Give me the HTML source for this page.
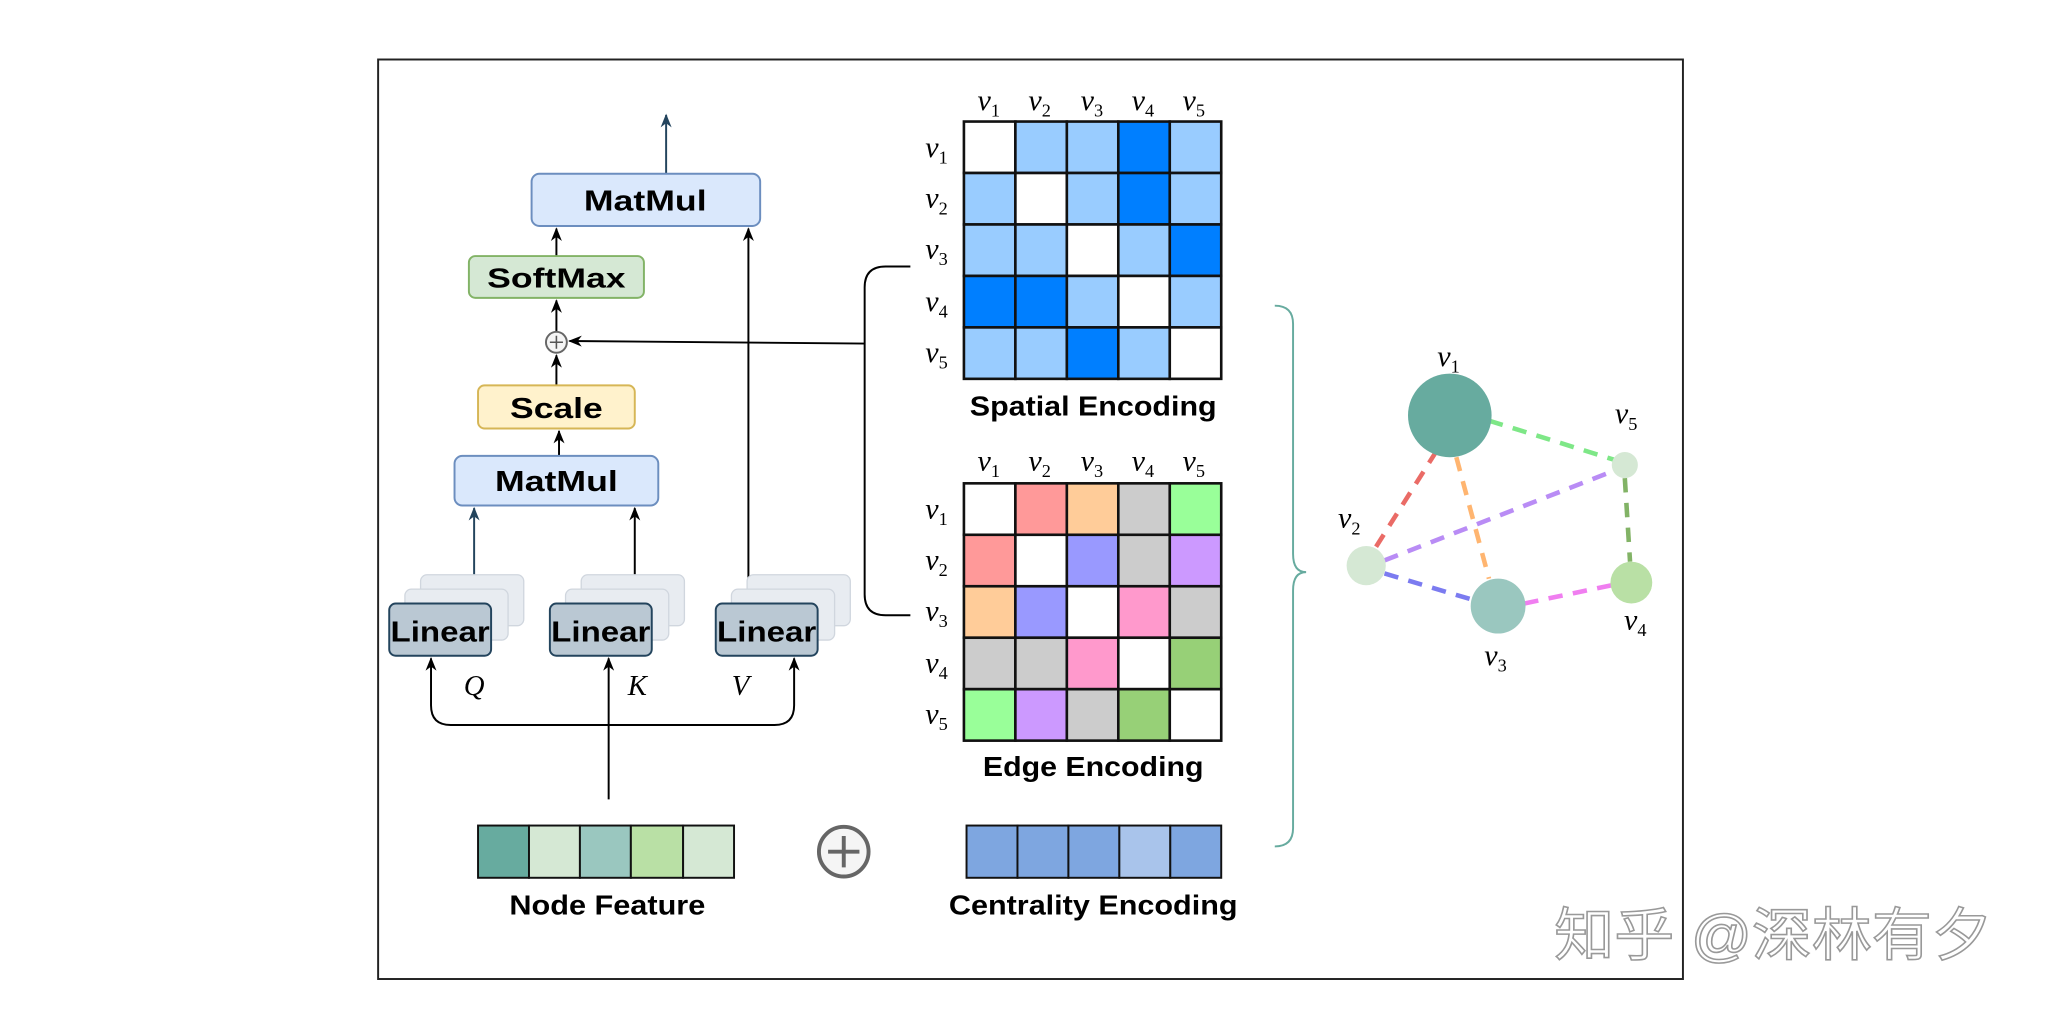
<!DOCTYPE html>
<html><head><meta charset="utf-8"><style>
html,body{margin:0;padding:0;background:#fff;}
svg{display:block;}
.b{font-family:"Liberation Sans",sans-serif;font-weight:bold;fill:#000;text-anchor:middle;}
.m{font-family:"Liberation Serif",serif;font-style:italic;fill:#000;text-anchor:middle;}
</style></head><body>
<svg width="2048" height="1015" viewBox="0 0 1568 777" xmlns="http://www.w3.org/2000/svg">
<defs>
<marker id="a" viewBox="0 0 10 10" refX="9" refY="5" markerWidth="7" markerHeight="7" orient="auto-start-reverse"><path d="M0,1 L10,5 L0,9 L3,5z" fill="#000"/></marker>
<marker id="ab" viewBox="0 0 10 10" refX="9" refY="5" markerWidth="7" markerHeight="7" orient="auto"><path d="M0,1 L10,5 L0,9 L3,5z" fill="#23445d"/></marker>
</defs>
<rect x="289.5" y="45.5" width="999" height="704" fill="#fff" stroke="#222" stroke-width="1.5"/>

<line x1="510" y1="138" x2="510" y2="88" stroke="#23445d" stroke-width="1.5" marker-end="url(#ab)"/>
<rect x="407" y="133" width="175" height="40" rx="6" fill="#dae8fc" stroke="#6c8ebf" stroke-width="1.5"/>
<text x="494" y="161" class="b" font-size="22" textLength="94" lengthAdjust="spacingAndGlyphs">MatMul</text>
<line x1="426" y1="196" x2="426" y2="175" stroke="#000" stroke-width="1.5" marker-end="url(#a)"/>
<rect x="359" y="196" width="134" height="32" rx="5" fill="#d5e8d4" stroke="#82b366" stroke-width="1.5"/>
<text x="426" y="220" class="b" font-size="21" textLength="106" lengthAdjust="spacingAndGlyphs">SoftMax</text>
<line x1="426" y1="254" x2="426" y2="230" stroke="#000" stroke-width="1.5" marker-end="url(#a)"/>
<circle cx="426" cy="262" r="8" fill="#f5f5f5" stroke="#666" stroke-width="1.5"/>
<path d="M421,262 H431 M426,257 V267" stroke="#555" stroke-width="1.2"/>
<line x1="426" y1="295" x2="426" y2="272" stroke="#000" stroke-width="1.5" marker-end="url(#a)"/>
<rect x="366" y="295" width="120" height="33" rx="5" fill="#fff2cc" stroke="#d6b656" stroke-width="1.5"/>
<text x="426" y="320" class="b" font-size="22" textLength="71" lengthAdjust="spacingAndGlyphs">Scale</text>
<line x1="428" y1="349" x2="428" y2="330" stroke="#000" stroke-width="1.5" marker-end="url(#a)"/>
<rect x="348" y="349" width="156" height="38" rx="6" fill="#dae8fc" stroke="#6c8ebf" stroke-width="1.5"/>
<text x="426" y="376" class="b" font-size="22" textLength="94" lengthAdjust="spacingAndGlyphs">MatMul</text>

<line x1="573" y1="447" x2="573" y2="175" stroke="#000" stroke-width="1.5" marker-end="url(#a)"/>
<line x1="363" y1="440" x2="363" y2="389" stroke="#23445d" stroke-width="1.5" marker-end="url(#ab)"/>
<line x1="486" y1="440" x2="486" y2="389" stroke="#000" stroke-width="1.5" marker-end="url(#a)"/>

<g>
<rect x="322" y="440" width="79" height="39" rx="5" fill="#e8ecf1" stroke="#d0d6de" stroke-width="1"/>
<rect x="310" y="451" width="79" height="39" rx="5" fill="#e8ecf1" stroke="#d0d6de" stroke-width="1"/>
<rect x="298" y="462" width="78" height="40" rx="5" fill="#bac8d3" stroke="#23445d" stroke-width="1.5"/>
<text x="337" y="491" class="b" font-size="22" textLength="76" lengthAdjust="spacingAndGlyphs">Linear</text>
</g>
<g>
<rect x="445" y="440" width="79" height="39" rx="5" fill="#e8ecf1" stroke="#d0d6de" stroke-width="1"/>
<rect x="433" y="451" width="79" height="39" rx="5" fill="#e8ecf1" stroke="#d0d6de" stroke-width="1"/>
<rect x="421" y="462" width="78" height="40" rx="5" fill="#bac8d3" stroke="#23445d" stroke-width="1.5"/>
<text x="460" y="491" class="b" font-size="22" textLength="76" lengthAdjust="spacingAndGlyphs">Linear</text>
</g>
<g>
<rect x="572" y="440" width="79" height="39" rx="5" fill="#e8ecf1" stroke="#d0d6de" stroke-width="1"/>
<rect x="560" y="451" width="79" height="39" rx="5" fill="#e8ecf1" stroke="#d0d6de" stroke-width="1"/>
<rect x="548" y="462" width="78" height="40" rx="5" fill="#bac8d3" stroke="#23445d" stroke-width="1.5"/>
<text x="587" y="491" class="b" font-size="22" textLength="76" lengthAdjust="spacingAndGlyphs">Linear</text>
</g>
<text x="363" y="532" class="m" font-size="22">Q</text>
<text x="488" y="532" class="m" font-size="22">K</text>
<text x="567" y="532" class="m" font-size="22">V</text>

<line x1="466" y1="612" x2="466" y2="504" stroke="#000" stroke-width="1.5" marker-end="url(#a)"/>
<path d="M330,504 V540 Q330,555 345,555 H593 Q608,555 608,540 V504" fill="none" stroke="#000" stroke-width="1.5" marker-start="url(#a)" marker-end="url(#a)"/>

<g stroke="#111" stroke-width="1.5">
<rect x="366" y="632" width="39" height="40" fill="#67ab9f"/>
<rect x="405" y="632" width="39" height="40" fill="#d5e8d4"/>
<rect x="444" y="632" width="39" height="40" fill="#9ac7bf"/>
<rect x="483" y="632" width="40" height="40" fill="#b9e0a5"/>
<rect x="523" y="632" width="39" height="40" fill="#d5e8d4"/>
</g>
<text x="465" y="700" class="b" font-size="21" textLength="150" lengthAdjust="spacingAndGlyphs">Node Feature</text>
<circle cx="646" cy="652" r="19" fill="#f5f5f5" stroke="#666" stroke-width="3"/>
<path d="M634,652 H658 M646,640 V664" stroke="#666" stroke-width="3"/>
<g stroke="#111" stroke-width="1.5">
<rect x="740" y="632" width="39" height="40" fill="#7ea6e0"/>
<rect x="779" y="632" width="39" height="40" fill="#7ea6e0"/>
<rect x="818" y="632" width="39" height="40" fill="#7ea6e0"/>
<rect x="857" y="632" width="39" height="40" fill="#a9c4eb"/>
<rect x="896" y="632" width="39" height="40" fill="#7ea6e0"/>
</g>
<text x="837" y="700" class="b" font-size="21" textLength="221" lengthAdjust="spacingAndGlyphs">Centrality Encoding</text>

<path d="M697,204 H678 Q662,204 662,220 V455 Q662,471 678,471 H697" fill="none" stroke="#000" stroke-width="1.5"/>
<line x1="662" y1="263" x2="436" y2="261" stroke="#000" stroke-width="1.5" marker-end="url(#a)"/>

<g stroke="#111" stroke-width="2">
<rect x="738" y="93" width="39.4" height="39.4" fill="#fff"/><rect x="777.4" y="93" width="39.4" height="39.4" fill="#99ccff"/><rect x="816.8" y="93" width="39.4" height="39.4" fill="#99ccff"/><rect x="856.2" y="93" width="39.4" height="39.4" fill="#007fff"/><rect x="895.6" y="93" width="39.4" height="39.4" fill="#99ccff"/>
<rect x="738" y="132.4" width="39.4" height="39.4" fill="#99ccff"/><rect x="777.4" y="132.4" width="39.4" height="39.4" fill="#fff"/><rect x="816.8" y="132.4" width="39.4" height="39.4" fill="#99ccff"/><rect x="856.2" y="132.4" width="39.4" height="39.4" fill="#007fff"/><rect x="895.6" y="132.4" width="39.4" height="39.4" fill="#99ccff"/>
<rect x="738" y="171.8" width="39.4" height="39.4" fill="#99ccff"/><rect x="777.4" y="171.8" width="39.4" height="39.4" fill="#99ccff"/><rect x="816.8" y="171.8" width="39.4" height="39.4" fill="#fff"/><rect x="856.2" y="171.8" width="39.4" height="39.4" fill="#99ccff"/><rect x="895.6" y="171.8" width="39.4" height="39.4" fill="#007fff"/>
<rect x="738" y="211.2" width="39.4" height="39.4" fill="#007fff"/><rect x="777.4" y="211.2" width="39.4" height="39.4" fill="#007fff"/><rect x="816.8" y="211.2" width="39.4" height="39.4" fill="#99ccff"/><rect x="856.2" y="211.2" width="39.4" height="39.4" fill="#fff"/><rect x="895.6" y="211.2" width="39.4" height="39.4" fill="#99ccff"/>
<rect x="738" y="250.6" width="39.4" height="39.4" fill="#99ccff"/><rect x="777.4" y="250.6" width="39.4" height="39.4" fill="#99ccff"/><rect x="816.8" y="250.6" width="39.4" height="39.4" fill="#007fff"/><rect x="856.2" y="250.6" width="39.4" height="39.4" fill="#99ccff"/><rect x="895.6" y="250.6" width="39.4" height="39.4" fill="#fff"/>
</g>
<g font-size="23">
<text x="757" y="84" class="m">v<tspan font-size="14" font-style="normal" dy="5">1</tspan></text>
<text x="796" y="84" class="m">v<tspan font-size="14" font-style="normal" dy="5">2</tspan></text>
<text x="836" y="84" class="m">v<tspan font-size="14" font-style="normal" dy="5">3</tspan></text>
<text x="875" y="84" class="m">v<tspan font-size="14" font-style="normal" dy="5">4</tspan></text>
<text x="914" y="84" class="m">v<tspan font-size="14" font-style="normal" dy="5">5</tspan></text>
<text x="717" y="120" class="m">v<tspan font-size="14" font-style="normal" dy="5">1</tspan></text>
<text x="717" y="159" class="m">v<tspan font-size="14" font-style="normal" dy="5">2</tspan></text>
<text x="717" y="198" class="m">v<tspan font-size="14" font-style="normal" dy="5">3</tspan></text>
<text x="717" y="238" class="m">v<tspan font-size="14" font-style="normal" dy="5">4</tspan></text>
<text x="717" y="277" class="m">v<tspan font-size="14" font-style="normal" dy="5">5</tspan></text>
</g>
<text x="837" y="318" class="b" font-size="21" textLength="189" lengthAdjust="spacingAndGlyphs">Spatial Encoding</text>

<g stroke="#111" stroke-width="2">
<rect x="738" y="370" width="39.4" height="39.4" fill="#fff"/><rect x="777.4" y="370" width="39.4" height="39.4" fill="#ff9999"/><rect x="816.8" y="370" width="39.4" height="39.4" fill="#ffcc99"/><rect x="856.2" y="370" width="39.4" height="39.4" fill="#cccccc"/><rect x="895.6" y="370" width="39.4" height="39.4" fill="#99ff99"/>
<rect x="738" y="409.4" width="39.4" height="39.4" fill="#ff9999"/><rect x="777.4" y="409.4" width="39.4" height="39.4" fill="#fff"/><rect x="816.8" y="409.4" width="39.4" height="39.4" fill="#9999ff"/><rect x="856.2" y="409.4" width="39.4" height="39.4" fill="#cccccc"/><rect x="895.6" y="409.4" width="39.4" height="39.4" fill="#cc99ff"/>
<rect x="738" y="448.8" width="39.4" height="39.4" fill="#ffcc99"/><rect x="777.4" y="448.8" width="39.4" height="39.4" fill="#9999ff"/><rect x="816.8" y="448.8" width="39.4" height="39.4" fill="#fff"/><rect x="856.2" y="448.8" width="39.4" height="39.4" fill="#ff99cc"/><rect x="895.6" y="448.8" width="39.4" height="39.4" fill="#cccccc"/>
<rect x="738" y="488.2" width="39.4" height="39.4" fill="#cccccc"/><rect x="777.4" y="488.2" width="39.4" height="39.4" fill="#cccccc"/><rect x="816.8" y="488.2" width="39.4" height="39.4" fill="#ff99cc"/><rect x="856.2" y="488.2" width="39.4" height="39.4" fill="#fff"/><rect x="895.6" y="488.2" width="39.4" height="39.4" fill="#97d077"/>
<rect x="738" y="527.6" width="39.4" height="39.4" fill="#99ff99"/><rect x="777.4" y="527.6" width="39.4" height="39.4" fill="#cc99ff"/><rect x="816.8" y="527.6" width="39.4" height="39.4" fill="#cccccc"/><rect x="856.2" y="527.6" width="39.4" height="39.4" fill="#97d077"/><rect x="895.6" y="527.6" width="39.4" height="39.4" fill="#fff"/>
</g>
<g font-size="23">
<text x="757" y="360" class="m">v<tspan font-size="14" font-style="normal" dy="5">1</tspan></text>
<text x="796" y="360" class="m">v<tspan font-size="14" font-style="normal" dy="5">2</tspan></text>
<text x="836" y="360" class="m">v<tspan font-size="14" font-style="normal" dy="5">3</tspan></text>
<text x="875" y="360" class="m">v<tspan font-size="14" font-style="normal" dy="5">4</tspan></text>
<text x="914" y="360" class="m">v<tspan font-size="14" font-style="normal" dy="5">5</tspan></text>
<text x="717" y="397" class="m">v<tspan font-size="14" font-style="normal" dy="5">1</tspan></text>
<text x="717" y="436" class="m">v<tspan font-size="14" font-style="normal" dy="5">2</tspan></text>
<text x="717" y="475" class="m">v<tspan font-size="14" font-style="normal" dy="5">3</tspan></text>
<text x="717" y="515" class="m">v<tspan font-size="14" font-style="normal" dy="5">4</tspan></text>
<text x="717" y="554" class="m">v<tspan font-size="14" font-style="normal" dy="5">5</tspan></text>
</g>
<text x="837" y="594" class="b" font-size="21" textLength="169" lengthAdjust="spacingAndGlyphs">Edge Encoding</text>

<path d="M976,234 Q990,234 990,248 V424 Q990,438 1000,438 Q990,438 990,452 V634 Q990,648 976,648" fill="none" stroke="#67ab9f" stroke-width="1.5"/>

<g stroke-width="3.5" stroke-dasharray="11,8" fill="none">
<line x1="1100" y1="345" x2="1052" y2="421" stroke="#ea6b66"/>
<line x1="1115" y1="350" x2="1140" y2="443" stroke="#ffb570"/>
<line x1="1140" y1="322" x2="1236" y2="352" stroke="#7ee787"/>
<line x1="1060" y1="429" x2="1234" y2="361" stroke="#b98cf5"/>
<line x1="1060" y1="439" x2="1127" y2="459" stroke="#7b7bf0"/>
<line x1="1167" y1="462" x2="1234" y2="448" stroke="#f07ef0"/>
<line x1="1244" y1="366" x2="1248" y2="430" stroke="#82b366"/>
</g>
<circle cx="1110" cy="318" r="32" fill="#67ab9f"/>
<circle cx="1244" cy="356" r="10" fill="#d5e8d4"/>
<circle cx="1046" cy="433" r="15" fill="#d5e8d4"/>
<circle cx="1147" cy="464" r="21" fill="#9ac7bf"/>
<circle cx="1249" cy="446" r="16" fill="#b9e0a5"/>
<g font-size="23">
<text x="1109" y="280" class="m">v<tspan font-size="14" font-style="normal" dy="5">1</tspan></text>
<text x="1245" y="324" class="m">v<tspan font-size="14" font-style="normal" dy="5">5</tspan></text>
<text x="1033" y="404" class="m">v<tspan font-size="14" font-style="normal" dy="5">2</tspan></text>
<text x="1145" y="509" class="m">v<tspan font-size="14" font-style="normal" dy="5">3</tspan></text>
<text x="1252" y="482" class="m">v<tspan font-size="14" font-style="normal" dy="5">4</tspan></text>
</g>

<text x="1190" y="731" font-family="'Liberation Sans','Noto Sans CJK SC',sans-serif" font-size="44" fill="#fff" stroke="#999" stroke-width="1.2" textLength="335" lengthAdjust="spacingAndGlyphs">知乎 @深林有夕</text>
</svg>
</body></html>
